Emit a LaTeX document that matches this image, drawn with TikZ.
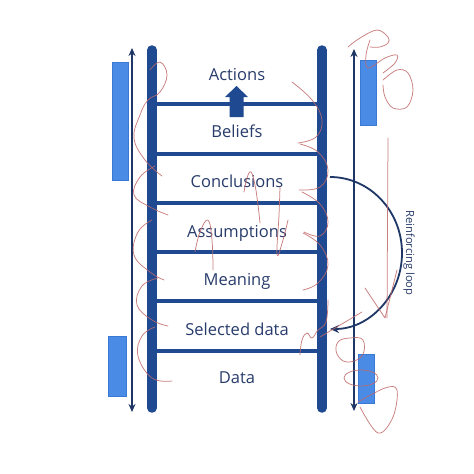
\documentclass[tikz,border=0pt]{standalone}
\usepackage{fontspec}
\setmainfont{Open Sans}
\usetikzlibrary{arrows.meta}
\definecolor{railblue}{HTML}{1F4A92}
\definecolor{txtblue}{HTML}{283C6C}
\definecolor{navy}{HTML}{1E3766}
\definecolor{boxblue}{HTML}{4A8BE6}
\definecolor{boxedge}{HTML}{3A78D6}
\definecolor{scrib}{HTML}{C06868}
\tikzset{
  rail/.style={line width=9.5pt, railblue, line cap=round},
  rung/.style={line width=3.4pt, railblue},
  lab/.style={anchor=base, text=txtblue, font=\fontsize{16.5}{18}\selectfont, inner sep=0pt},
  sidearrow/.style={line width=1.4pt, navy, {Stealth[length=8pt,width=7pt]}-{Stealth[length=8pt,width=7pt]}},
  bar/.style={fill=boxblue, draw=boxedge, line width=0.6pt},
  loop/.style={line width=1.8pt, navy, -{Stealth[length=9pt,width=8pt]}},
  scribble/.style={scrib, line width=0.75pt, opacity=0.85, line cap=round, line join=round},
}
\begin{document}
\begin{tikzpicture}[x=1pt,y=-1pt]
\useasboundingbox[fill=white] (0,0) rectangle (474,474);
% blue bars
\fill[bar] (112,62) rectangle (128,180);
\fill[bar] (108,336) rectangle (126,396);
\fill[bar] (360,60) rectangle (376,125);
\fill[bar] (358,354) rectangle (374,403);
% side arrows
\coordinate (lt) at (132,48); \coordinate (lb) at (132,412);
\coordinate (rt) at (354,49); \coordinate (rb) at (354,411);
\draw[sidearrow] (lt) -- (lb);
\draw[sidearrow] (rt) -- (rb);
% rails
\coordinate (Lt) at (152,50); \coordinate (Lb) at (152,408);
\coordinate (Rt) at (322,50); \coordinate (Rb) at (322,408);
% rungs
\foreach \y [count=\i] in {104,154,203,252,301,351}{
  \coordinate (rl\i) at (152,\y); \coordinate (rr\i) at (322,\y);
  \draw[rung] (rl\i) -- (rr\i);
}
\draw[rail] (Lt) -- (Lb);
\draw[rail] (Rt) -- (Rb);
% up arrow
\fill[railblue] (229.5,117) -- (229.5,97) -- (225,97) -- (236.5,86) -- (248,97) -- (243.5,97) -- (243.5,117) -- cycle;
% labels
\node[lab] (act) at (237,80) {Actions};
\node[lab] (bel) at (237,137) {Beliefs};
\node[lab] (con) at (237,187) {Conclusions};
\node[lab] (ass) at (237,237) {Assumptions};
\node[lab] (mea) at (237,285) {Meaning};
\node[lab] (sel) at (237,335) {Selected data};
\node[lab] (dat) at (237,383) {Data};
% reinforcing loop
\coordinate (loopS) at (330,177);
\draw[loop] (loopS) arc[start angle=-90, end angle=90, x radius=72, y radius=76];
\node[rotate=-90, text=txtblue, font=\fontsize{11.2}{13}\selectfont, inner sep=0pt] (rl) at (409,253) {Reinforcing loop};
% red scribbles
\draw[scribble] plot[smooth,tension=0.7] coordinates {(150,70) (160,62) (167,75) (160,92) (148,100) (140,115) (134,138) (145,160) (162,176)};
\draw[scribble] plot[smooth,tension=0.7] coordinates {(155,166) (140,177) (134,195) (150,207) (168,215)};
\draw[scribble] plot[smooth,tension=0.7] coordinates {(152,220) (138,232) (134,255) (150,272) (164,280)};
\draw[scribble] plot[smooth,tension=0.7] coordinates {(158,278) (142,286) (137,305) (152,320) (168,326)};
\draw[scribble] plot[smooth,tension=0.7] coordinates {(155,327) (142,336) (138,356) (152,378) (172,381)};
\draw[scribble] plot[smooth,tension=0.7] coordinates {(292,82) (312,100) (322,120) (316,137) (298,143)};
\draw[scribble] plot[smooth,tension=0.7] coordinates {(300,144) (318,152) (328,170) (320,187) (299,190)};
\draw[scribble] plot[smooth,tension=0.7] coordinates {(302,192) (320,204) (328,222) (320,236) (304,232)};
\draw[scribble] plot[smooth,tension=0.7] coordinates {(303,233) (320,245) (328,265) (318,283) (303,290)};
\draw[scribble] plot[smooth,tension=0.7] coordinates {(300,355) (302,340) (307,333) (312,338) (318,330) (326,322) (328,300)};
\draw[scribble] (320,337) -- (362,312);
\draw[scribble] plot[smooth cycle,tension=0.7] coordinates {(338,342) (350,338) (363,340) (362,356) (347,362) (337,354)};
\draw[scribble] (361,378) ellipse[x radius=17, y radius=8];
\draw[scribble] plot[smooth,tension=0.6] coordinates {(358,402) (385,388) (397,390) (393,417) (378,433) (360,407)};
% middle scribbles
\draw[scribble] plot[smooth,tension=0.7] coordinates {(244,192) (247,178) (251,172) (255,185) (258,205) (260,223)};
\draw[scribble] plot[smooth,tension=0.7] coordinates {(280,187) (279,215) (277,255) (283,240) (288,220)};
\draw[scribble] plot[smooth,tension=0.7] coordinates {(195,252) (200,232) (208,220) (212,240) (213,270)};
% right vertical and V
\draw[scribble] (388,138) -- (387,318);
\draw[scribble] (365,288) -- (385,318) -- (397,270);
% top right scribble
\draw[scribble] plot[smooth,tension=0.6] coordinates {(348,47) (360,38) (377,30) (388,37) (388,43) (380,47) (370,47)};
\draw[scribble] plot[smooth,tension=0.6] coordinates {(370,40) (366,55) (368,68) (385,58) (397,55) (395,63) (383,73)};
\draw[scribble] plot[smooth,tension=0.6] coordinates {(383,80) (397,70) (408,73) (413,90) (407,107) (393,108) (385,97) (383,85)};
\end{tikzpicture}
\end{document}
